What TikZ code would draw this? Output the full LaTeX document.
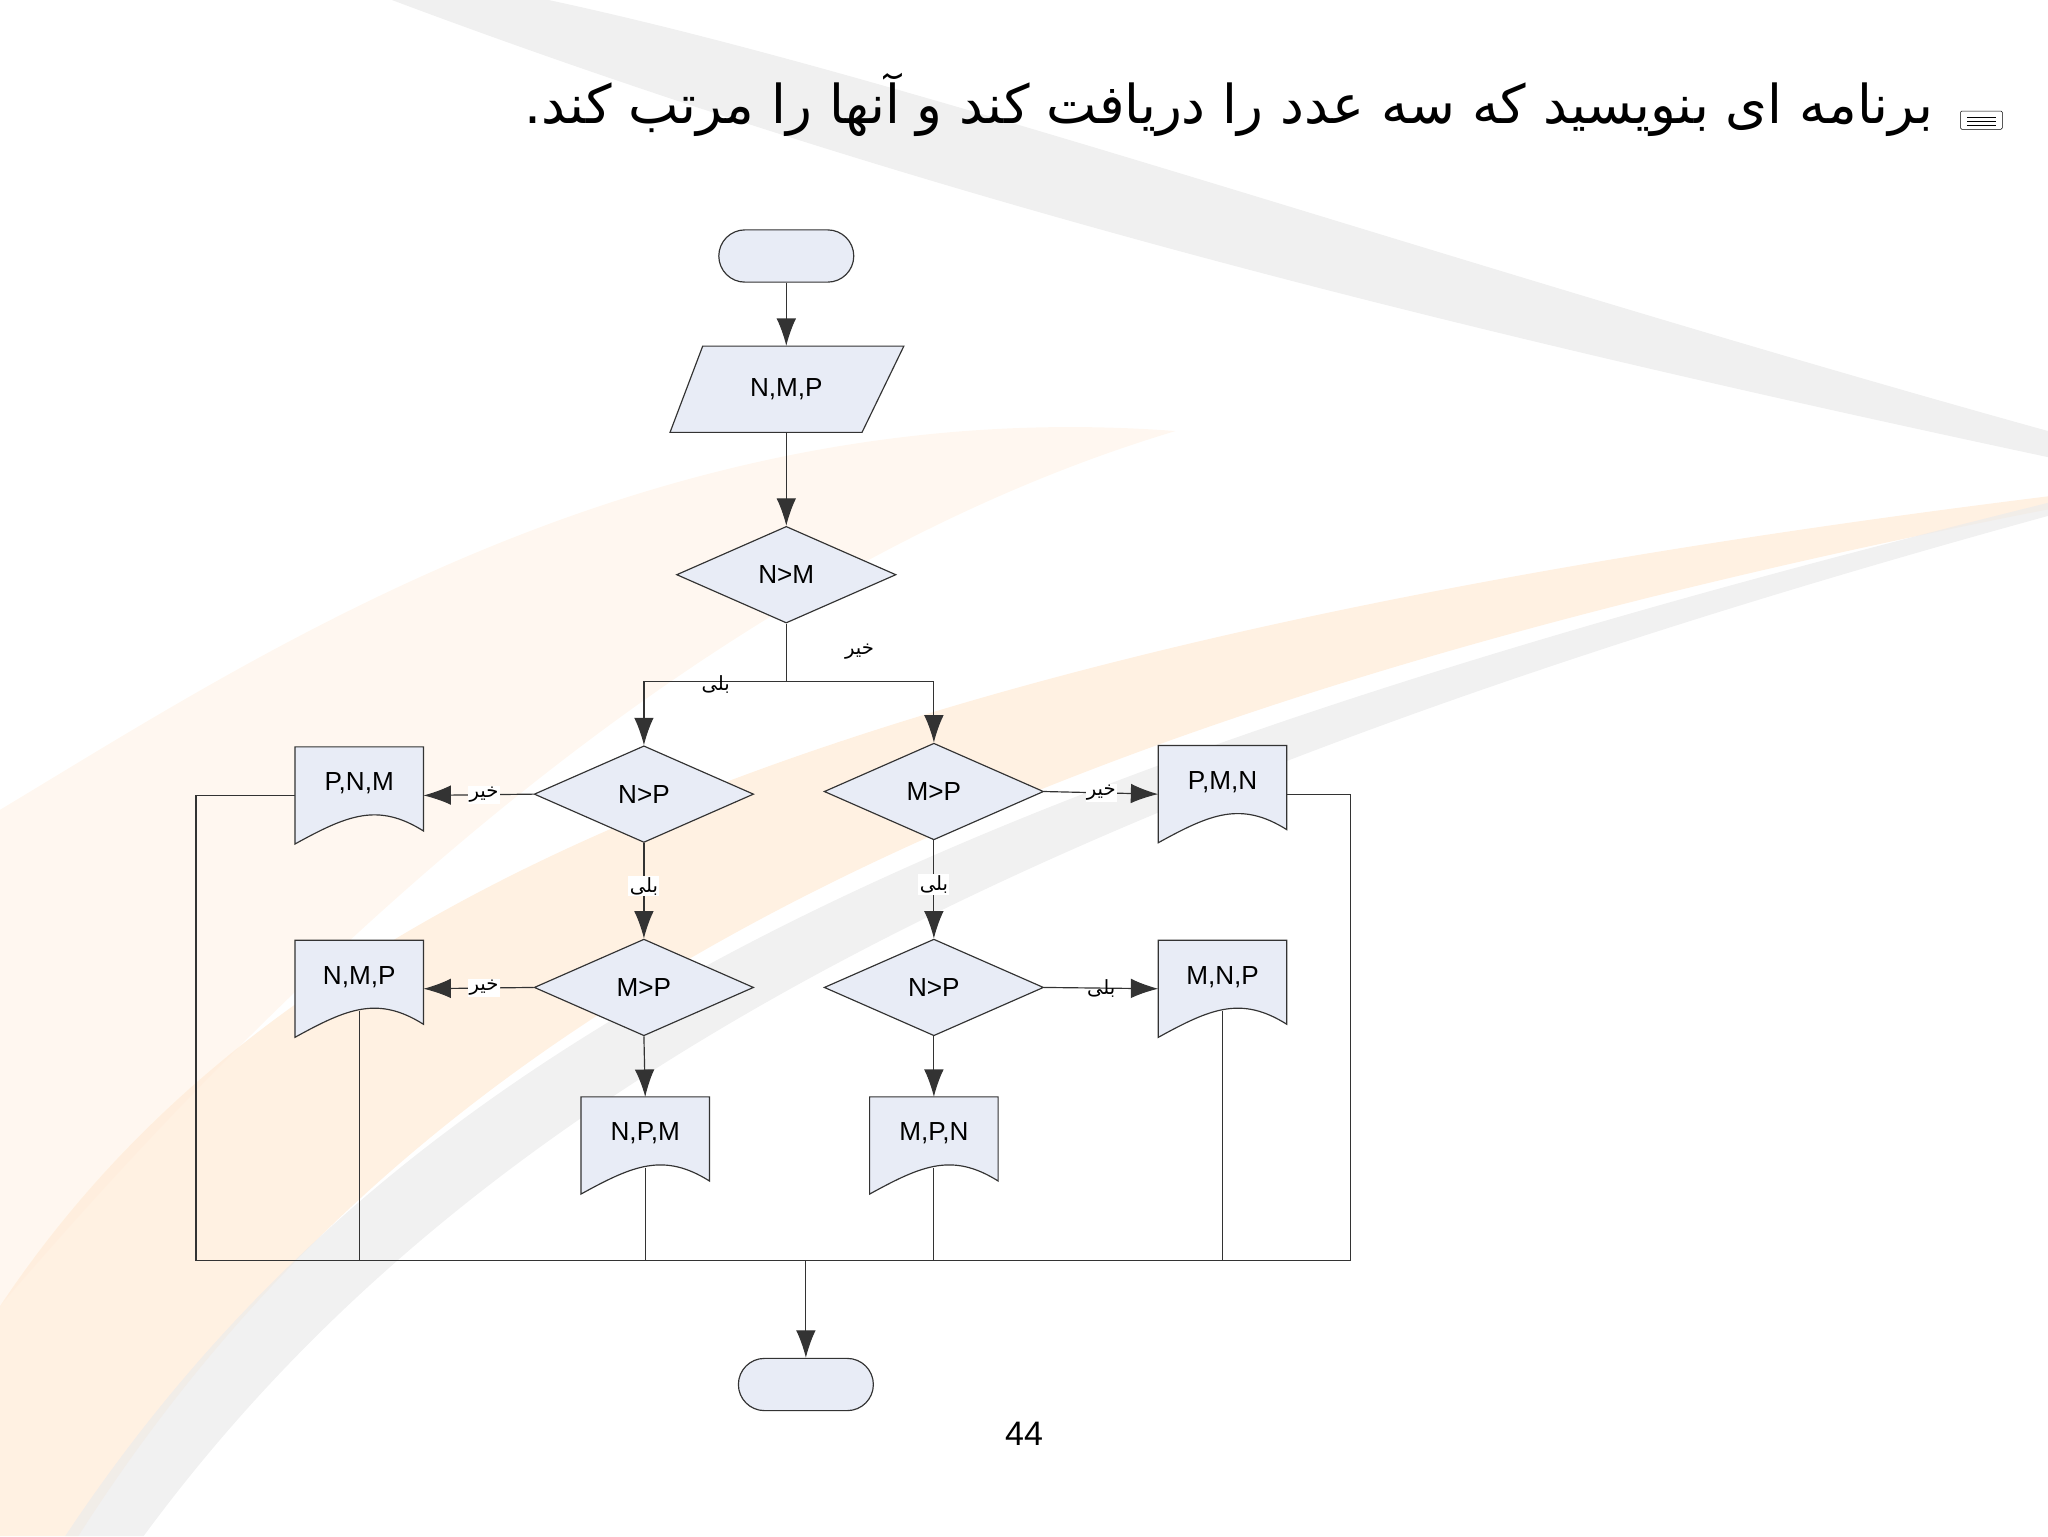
\documentclass[tikz,border=0pt]{standalone}
\usepackage{fontspec}
\setmainfont{Liberation Sans}
\newfontfamily\fa[Script=Arabic]{DejaVu Sans}
\TeXXeTstate=1
\usetikzlibrary{arrows.meta,shapes.geometric,shapes.misc}
\definecolor{boxfill}{HTML}{E8ECF6}
\tikzset{
  ln/.style={draw=black!80, line width=0.9pt},
  arr/.style={ln, -{Latex[length=21pt,width=15pt]}},
  shp/.style={draw=black!80, line width=0.9pt, fill=boxfill},
  dia/.style={diamond, aspect=2.27, minimum width=168pt, minimum height=74pt, inner sep=0pt, shp, font=\fontsize{20}{22}\selectfont},
  docb/.style={rectangle, minimum width=98pt, minimum height=74pt, inner sep=0pt},
  lbl/.style={font=\fa\fontsize{15}{16}\selectfont, inner sep=1pt},
  lblw/.style={lbl, fill=white},
  term/.style={rounded rectangle, minimum width=110pt, minimum height=40pt, shp}
}
\newcommand{\drawdoc}[2]{%
  \path[shp] (#1.north west) -- (#1.north east) -- ([yshift=10pt]#1.south east)
    .. controls +(-35,-22) and +(40,-22) .. (#1.south west) -- cycle;
  \node[font=\fontsize{20}{22}\selectfont] at ([yshift=-28pt]#1.north) {#2};}
\begin{document}
\begin{tikzpicture}[x=1pt,y=-1pt]
\useasboundingbox (0,0) rectangle (1568,1176);
% background swooshes
\fill[black!6] (300,0) .. controls (700,150) and (1100,250) .. (1568,350) -- (1568,330) .. controls (1100,200) and (700,60) .. (420,0) -- cycle;
\fill[orange!25,opacity=0.45] (0,1000) .. controls (200,700) and (600,500) .. (1568,380) -- (1568,390) .. controls (700,560) and (300,800) .. (60,1176) -- (0,1176) -- cycle;
\fill[orange!15,opacity=0.4] (0,620) .. controls (200,500) and (500,300) .. (900,330) .. controls (600,420) and (300,650) .. (0,1000) -- cycle;
\fill[black!8,opacity=0.7] (50,1176) .. controls (300,800) and (700,600) .. (1568,385) -- (1568,395) .. controls (750,620) and (350,850) .. (110,1176) -- cycle;

% title
\node[anchor=east, font=\fa\fontsize{41}{44}\selectfont, inner sep=0pt] (title) at (1480,80) {\beginR برنامه ای بنویسید که سه عدد را دریافت کند و آنها را مرتب کند.\endR};
\node[draw, rounded corners=1pt, minimum width=32pt, minimum height=14pt, inner sep=0pt] (bul) at (1517,92) {};
\draw (bul.west) ++(5,-2) -- ++(22,0) (bul.west) ++(5,1) -- ++(22,0) (bul.west) ++(5,4) -- ++(22,0);

% nodes
\node[term] (start) at (602,196) {};
\path[shp] (538,265) -- (692,265) -- (660,331) -- (513,331) -- cycle;
\node[font=\fontsize{20}{22}\selectfont, minimum width=150pt, minimum height=66pt] (inp) at (602,298) {N,M,P};
\node[dia] (d1) at (602,440) {N>M};
\node[dia] (d2) at (493,608) {N>P};
\node[dia] (d3) at (715,606) {M>P};
\node[dia] (d4) at (493,756) {M>P};
\node[dia] (d5) at (715,756) {N>P};
\node[docb] (o1) at (275,609) {};
\node[docb] (o2) at (936,608) {};
\node[docb] (o3) at (275,757) {};
\node[docb] (o4) at (936,757) {};
\node[docb] (o5) at (494,877) {};
\node[docb] (o6) at (715,877) {};
\node[term] (end) at (617,1060) {};
\coordinate (split) at (602,522);
\coordinate (sl) at (493,522);
\coordinate (sr) at (715,522);
\coordinate (bl) at (150,965);
\coordinate (br) at (1034,965);
\coordinate (bm) at (617,965);

% connectors
\draw[arr] (start) -- (inp);
\draw[arr] (inp) -- (d1);
\draw[ln] (d1.south) -- (split);
\draw[arr] (split) -- (sl) -- (d2.north);
\draw[arr] (split) -- (sr) -- (d3.north);
\node[lbl] at (548,524) {\beginR بلی\endR};
\node[lbl] at (658,499) {\beginR خیر\endR};
\draw[arr] (d2.west) -- (o1.east) node[lblw, pos=0.45] {\beginR خیر\endR};
\draw[arr] (d3.east) -- (o2.west) node[lblw, pos=0.5] {\beginR خیر\endR};
\draw[arr] (d2.south) -- (d4.north) node[lblw, pos=0.45] {\beginR بلی\endR};
\draw[arr] (d3.south) -- (d5.north) node[lblw, pos=0.45] {\beginR بلی\endR};
\draw[arr] (d4.west) -- (o3.east) node[lblw, pos=0.45] {\beginR خیر\endR};
\draw[arr] (d5.east) -- (o4.west) node[lbl, pos=0.5] {\beginR بلی\endR};
\draw[arr] (d4.south) -- (o5.north);
\draw[arr] (d5.south) -- (o6.north);
\draw[ln] (o1.west) -| (bl) -- (br) |- (o2.east);
\draw[ln] ([yshift=20pt]o3.south) -- (o3.south |- bl);
\draw[ln] ([yshift=20pt]o4.south) -- (o4.south |- bl);
\draw[ln] ([yshift=20pt]o5.south) -- (o5.south |- bl);
\draw[ln] ([yshift=20pt]o6.south) -- (o6.south |- bl);
\draw[arr] (bm) -- (end);
\drawdoc{o1}{P,N,M}
\drawdoc{o2}{P,M,N}
\drawdoc{o3}{N,M,P}
\drawdoc{o4}{M,N,P}
\drawdoc{o5}{N,P,M}
\drawdoc{o6}{M,P,N}
\node[font=\fontsize{26}{28}\selectfont] (pg) at (784,1098) {44};
\end{tikzpicture}
\end{document}
